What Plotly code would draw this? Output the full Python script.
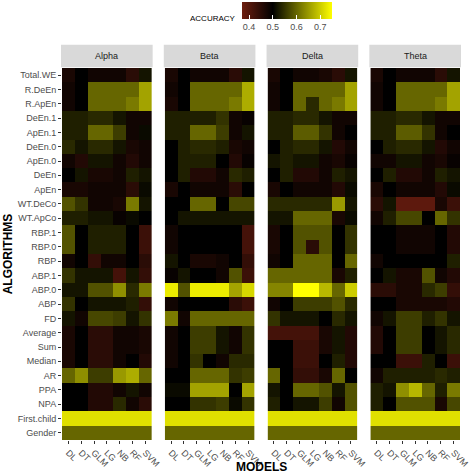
import plotly.graph_objs as go
from plotly.subplots import make_subplots

# Data
models = ["DL", "DT", "GLM", "LG", "NB", "RF", "SVM"]
algorithms = ["Total.WE", "R.DeEn", "R.ApEn", "DeEn.1", "ApEn.1", "DeEn.0", "ApEn.0", "DeEn", "ApEn",
              "WT.DeCo", "WT.ApCo", "RBP.1", "RBP.0", "RBP", "ABP.1", "ABP.0", "ABP", "FD", "Average",
              "Sum", "Median", "AR", "PPA", "NPA", "First.child", "Gender"]
bands = ["Alpha", "Beta", "Delta", "Theta"]

alpha = [
    [0.47, 0.50, 0.48, 0.48, 0.48, 0.45, 0.52],
    [0.48, 0.50, 0.60, 0.60, 0.60, 0.60, 0.66],
    [0.48, 0.50, 0.60, 0.60, 0.60, 0.62, 0.66],
    [0.53, 0.53, 0.54, 0.54, 0.52, 0.48, 0.48],
    [0.53, 0.53, 0.60, 0.60, 0.56, 0.48, 0.51],
    [0.54, 0.52, 0.54, 0.54, 0.52, 0.47, 0.48],
    [0.48, 0.46, 0.52, 0.52, 0.48, 0.46, 0.48],
    [0.50, 0.52, 0.47, 0.47, 0.48, 0.53, 0.52],
    [0.47, 0.47, 0.48, 0.48, 0.48, 0.45, 0.51],
    [0.58, 0.55, 0.48, 0.48, 0.47, 0.62, 0.52],
    [0.53, 0.53, 0.52, 0.52, 0.49, 0.51, 0.50],
    [0.58, 0.50, 0.53, 0.53, 0.53, 0.50, 0.43],
    [0.58, 0.50, 0.53, 0.53, 0.53, 0.50, 0.43],
    [0.48, 0.50, 0.44, 0.48, 0.48, 0.50, 0.45],
    [0.55, 0.52, 0.52, 0.52, 0.42, 0.52, 0.44],
    [0.52, 0.52, 0.58, 0.58, 0.64, 0.54, 0.62],
    [0.55, 0.50, 0.52, 0.52, 0.52, 0.53, 0.44],
    [0.52, 0.48, 0.57, 0.57, 0.56, 0.52, 0.55],
    [0.47, 0.50, 0.45, 0.45, 0.48, 0.48, 0.47],
    [0.47, 0.50, 0.45, 0.45, 0.48, 0.48, 0.47],
    [0.47, 0.50, 0.45, 0.45, 0.48, 0.50, 0.46],
    [0.60, 0.64, 0.56, 0.56, 0.65, 0.67, 0.60],
    [0.50, 0.50, 0.46, 0.46, 0.48, 0.52, 0.48],
    [0.50, 0.50, 0.46, 0.46, 0.54, 0.48, 0.45],
    [0.72, 0.72, 0.72, 0.72, 0.72, 0.72, 0.72],
    [0.60, 0.60, 0.60, 0.60, 0.60, 0.60, 0.60],
]
beta = [
    [0.47, 0.50, 0.48, 0.48, 0.48, 0.45, 0.52],
    [0.48, 0.50, 0.60, 0.60, 0.60, 0.60, 0.67],
    [0.47, 0.50, 0.60, 0.60, 0.60, 0.62, 0.67],
    [0.53, 0.53, 0.53, 0.53, 0.55, 0.48, 0.49],
    [0.53, 0.53, 0.60, 0.60, 0.56, 0.48, 0.52],
    [0.50, 0.53, 0.54, 0.54, 0.53, 0.47, 0.48],
    [0.50, 0.53, 0.53, 0.53, 0.50, 0.46, 0.49],
    [0.50, 0.53, 0.46, 0.46, 0.48, 0.54, 0.53],
    [0.47, 0.50, 0.48, 0.48, 0.48, 0.45, 0.50],
    [0.50, 0.50, 0.60, 0.60, 0.50, 0.57, 0.57],
    [0.50, 0.52, 0.52, 0.52, 0.52, 0.52, 0.52],
    [0.48, 0.50, 0.50, 0.50, 0.50, 0.50, 0.42],
    [0.48, 0.50, 0.50, 0.50, 0.50, 0.50, 0.42],
    [0.52, 0.50, 0.47, 0.47, 0.48, 0.50, 0.44],
    [0.49, 0.52, 0.50, 0.50, 0.48, 0.58, 0.43],
    [0.73, 0.58, 0.73, 0.73, 0.73, 0.66, 0.71],
    [0.48, 0.50, 0.50, 0.50, 0.50, 0.45, 0.43],
    [0.62, 0.48, 0.60, 0.60, 0.60, 0.60, 0.60],
    [0.48, 0.50, 0.56, 0.56, 0.52, 0.48, 0.55],
    [0.48, 0.50, 0.56, 0.56, 0.52, 0.48, 0.55],
    [0.48, 0.50, 0.55, 0.50, 0.48, 0.54, 0.54],
    [0.50, 0.50, 0.60, 0.60, 0.60, 0.55, 0.56],
    [0.51, 0.51, 0.66, 0.66, 0.66, 0.50, 0.66],
    [0.50, 0.50, 0.55, 0.55, 0.56, 0.51, 0.55],
    [0.72, 0.72, 0.72, 0.72, 0.72, 0.72, 0.72],
    [0.60, 0.60, 0.60, 0.60, 0.60, 0.60, 0.60],
]
delta = [
    [0.47, 0.50, 0.48, 0.48, 0.47, 0.45, 0.52],
    [0.48, 0.50, 0.60, 0.60, 0.60, 0.60, 0.66],
    [0.48, 0.50, 0.60, 0.54, 0.60, 0.62, 0.66],
    [0.53, 0.53, 0.54, 0.54, 0.52, 0.48, 0.48],
    [0.53, 0.53, 0.59, 0.59, 0.55, 0.48, 0.50],
    [0.50, 0.53, 0.54, 0.54, 0.52, 0.46, 0.48],
    [0.52, 0.53, 0.52, 0.52, 0.48, 0.47, 0.49],
    [0.50, 0.53, 0.46, 0.46, 0.48, 0.53, 0.52],
    [0.47, 0.50, 0.48, 0.48, 0.48, 0.46, 0.51],
    [0.54, 0.54, 0.54, 0.54, 0.54, 0.65, 0.52],
    [0.52, 0.52, 0.60, 0.60, 0.60, 0.47, 0.51],
    [0.47, 0.50, 0.58, 0.58, 0.58, 0.50, 0.55],
    [0.47, 0.50, 0.58, 0.45, 0.58, 0.50, 0.55],
    [0.48, 0.50, 0.60, 0.60, 0.60, 0.50, 0.60],
    [0.60, 0.60, 0.60, 0.60, 0.60, 0.47, 0.53],
    [0.63, 0.63, 0.77, 0.77, 0.68, 0.60, 0.70],
    [0.48, 0.50, 0.56, 0.56, 0.56, 0.58, 0.54],
    [0.55, 0.52, 0.52, 0.52, 0.50, 0.54, 0.52],
    [0.42, 0.42, 0.42, 0.42, 0.47, 0.52, 0.46],
    [0.50, 0.50, 0.43, 0.43, 0.47, 0.52, 0.46],
    [0.50, 0.50, 0.43, 0.43, 0.50, 0.53, 0.46],
    [0.60, 0.50, 0.44, 0.44, 0.47, 0.60, 0.50],
    [0.52, 0.50, 0.60, 0.60, 0.58, 0.52, 0.58],
    [0.53, 0.50, 0.52, 0.52, 0.56, 0.48, 0.58],
    [0.72, 0.72, 0.72, 0.72, 0.72, 0.72, 0.72],
    [0.60, 0.60, 0.60, 0.60, 0.60, 0.60, 0.60],
]
theta = [
    [0.47, 0.50, 0.48, 0.48, 0.48, 0.45, 0.52],
    [0.48, 0.50, 0.60, 0.60, 0.60, 0.60, 0.66],
    [0.48, 0.50, 0.60, 0.60, 0.60, 0.62, 0.66],
    [0.53, 0.53, 0.54, 0.54, 0.52, 0.48, 0.48],
    [0.53, 0.53, 0.59, 0.59, 0.55, 0.48, 0.50],
    [0.50, 0.53, 0.54, 0.54, 0.52, 0.46, 0.48],
    [0.48, 0.48, 0.52, 0.52, 0.48, 0.47, 0.49],
    [0.50, 0.53, 0.46, 0.46, 0.48, 0.53, 0.52],
    [0.47, 0.50, 0.48, 0.48, 0.48, 0.46, 0.51],
    [0.45, 0.52, 0.39, 0.39, 0.39, 0.47, 0.43],
    [0.48, 0.53, 0.57, 0.57, 0.50, 0.60, 0.55],
    [0.50, 0.50, 0.48, 0.48, 0.48, 0.50, 0.46],
    [0.50, 0.50, 0.48, 0.48, 0.48, 0.50, 0.46],
    [0.48, 0.50, 0.50, 0.50, 0.50, 0.50, 0.53],
    [0.50, 0.52, 0.47, 0.47, 0.58, 0.48, 0.46],
    [0.45, 0.45, 0.47, 0.47, 0.54, 0.56, 0.44],
    [0.50, 0.50, 0.47, 0.47, 0.47, 0.47, 0.46],
    [0.48, 0.52, 0.56, 0.56, 0.53, 0.55, 0.52],
    [0.46, 0.50, 0.56, 0.56, 0.50, 0.52, 0.54],
    [0.46, 0.50, 0.56, 0.56, 0.50, 0.52, 0.54],
    [0.50, 0.50, 0.43, 0.43, 0.53, 0.50, 0.43],
    [0.48, 0.53, 0.53, 0.53, 0.53, 0.54, 0.53],
    [0.53, 0.52, 0.64, 0.68, 0.60, 0.53, 0.62],
    [0.53, 0.50, 0.58, 0.58, 0.58, 0.47, 0.57],
    [0.72, 0.72, 0.72, 0.72, 0.72, 0.72, 0.72],
    [0.60, 0.60, 0.60, 0.60, 0.60, 0.60, 0.60],
]
values = [alpha, beta, delta, theta]

fig = make_subplots(rows=1, cols=4, shared_yaxes=True, horizontal_spacing=0.033)
for i, z in enumerate(values):
    fig.add_trace(go.Heatmap(z=z, x=models, y=algorithms, coloraxis="coloraxis"), row=1, col=i + 1)

zmin, zmax = 0.37, 0.75
fig.update_layout(
    width=474, height=476, plot_bgcolor="white", paper_bgcolor="white",
    margin=dict(l=62, r=14, t=68, b=36, autoexpand=False),
    font=dict(family="Liberation Sans, Arial", size=9, color="#4d4d4d"),
    showlegend=False,
    coloraxis=dict(cmin=zmin, cmax=zmax,
                   colorscale=[[0, "#6e1e0f"], [(0.5 - zmin) / (zmax - zmin), "#000000"], [1, "#ffff00"]],
                   colorbar=dict(orientation="h", x=(242 - 62) / 398, xanchor="left", y=1 + 66 / 372, yanchor="top",
                                 len=90, lenmode="pixels", thickness=17, outlinewidth=0, xpad=0, ypad=0,
                                 tickvals=[0.4, 0.5, 0.6, 0.7], ticks="inside", tickcolor="white",
                                 ticklen=4, tickfont=dict(size=9, color="#4d4d4d"))),
)
fig.add_annotation(text="ACCURACY", x=(238 - 62) / 398, xanchor="right", y=1 + 50 / 372, yanchor="middle",
                   yref="paper", xref="paper", showarrow=False, font=dict(size=8, color="black"))

for i, b in enumerate(bands):
    d = fig.layout[f"xaxis{'' if i == 0 else i + 1}"].domain
    fig.add_shape(type="rect", xref="paper", yref="paper", x0=d[0], x1=d[1], y0=1.005, y1=1.06,
                  fillcolor="#d9d9d9", line=dict(color="#d9d9d9"))
    fig.add_annotation(text=b, x=(d[0] + d[1]) / 2, y=1.0325, xref="paper", yref="paper", showarrow=False,
                       xanchor="center", yanchor="middle", font=dict(size=9, color="#1a1a1a"))

fig.update_xaxes(tickangle=45, ticks="outside", ticklen=3, tickcolor="#333", showgrid=False,
                 tickfont=dict(size=9, color="#4d4d4d"))
fig.update_yaxes(autorange="reversed", ticks="", showgrid=False, showticklabels=False)
fig.update_yaxes(ticks="outside", ticklen=3, tickcolor="#333", showticklabels=True,
                 tickfont=dict(size=9, color="#4d4d4d"),
                 title=dict(text="<b>ALGORITHMS</b>", font=dict(size=12, color="black"), standoff=2), row=1, col=1)
fig.add_annotation(text="<b>MODELS</b>", x=0.5, y=-0.072, xref="paper", yref="paper", yanchor="middle",
                   showarrow=False, font=dict(size=12, color="black"))

fig.write_html("out.html", config={"displayModeBar": False},
               post_script="document.body.style.margin='0';")
